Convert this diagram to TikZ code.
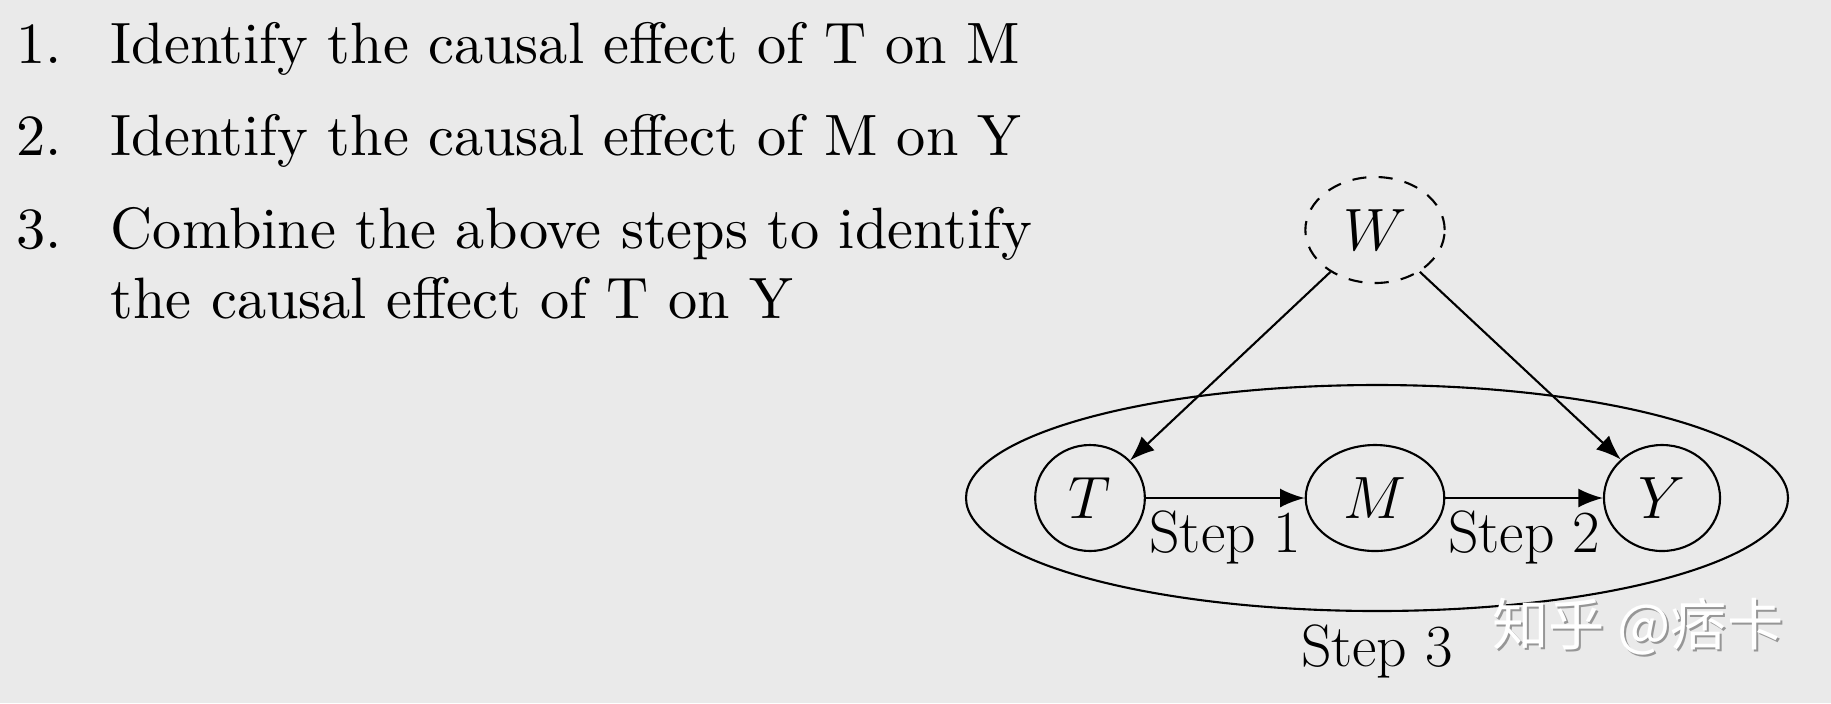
\RequirePackage{fix-cm}
\documentclass[tikz,border=0pt]{standalone}
\usepackage{fontspec}
\newfontfamily\listfont{lmroman10-regular}[Extension=.otf]
\newfontfamily\cjk{Noto Sans CJK SC}
\usetikzlibrary{shapes.geometric,arrows.meta,positioning}
\definecolor{hintergrund}{RGB}{234,234,234}
\definecolor{schatten}{RGB}{150,150,150}
\tikzset{
  var/.style={draw, ellipse, line width=0.6pt, inner xsep=5pt, inner ysep=2pt, minimum height=1.06cm},
  pfeil/.style={-{Latex[length=7pt,width=5.4pt]}, line width=0.6pt},
  liste/.style={anchor=base west, inner sep=0pt, font=\listfont\fontsize{16.6}{20}\selectfont},
  marke/.style={font=\cjk\fontsize{16}{18}\selectfont}
}
\begin{document}
\begin{tikzpicture}[font=\fontsize{17}{20}\selectfont]
  % Hintergrund
  \fill[hintergrund] (0,0) rectangle (18.31,7.03);
  \useasboundingbox (0,0) rectangle (18.31,7.03);

  % Liste
  \node[liste] (nr1) at (0.16,6.40) {1.};
  \node[liste] (text1) at (1.10,6.40) {Identify the causal effect of T on M};
  \node[liste] (nr2) at (0.16,5.48) {2.};
  \node[liste] (text2) at (1.10,5.48) {Identify the causal effect of M on Y};
  \node[liste] (nr3) at (0.16,4.55) {3.};
  \node[liste] (text3) at (1.10,4.55) {Combine the above steps to identify};
  \node[liste] (text3b) at (1.10,3.85) {the causal effect of T on Y};

  % Knoten
  \node[var, dash pattern=on 4pt off 3.5pt] (W) at (13.75,4.73) {$W$};
  \node[var] (T) at (10.90,2.05) {$T$};
  \node[var] (M) at (13.75,2.05) {$M$};
  \node[var] (Y) at (16.62,2.05) {$Y$};

  % grosse Ellipse (Step 3)
  \node[draw, ellipse, line width=0.6pt, minimum width=8.22cm, minimum height=2.26cm] (alle) at (13.77,2.05) {};
  \node[below=0pt of alle] (step3) {Step 3};

  % Pfeile
  \draw[pfeil] (W) -- (T);
  \draw[pfeil] (W) -- (Y);
  \draw[pfeil] (T) -- node[below] (step1) {Step 1} (M);
  \draw[pfeil] (M) -- node[below] (step2) {Step 2} (Y);

  % Wasserzeichen
  \node[marke, text=schatten] (wmschatten) at (16.40,0.74) {知乎 @痞卡};
  \node[marke, text=white] (wm) at (16.38,0.76) {知乎 @痞卡};
\end{tikzpicture}
\end{document}
